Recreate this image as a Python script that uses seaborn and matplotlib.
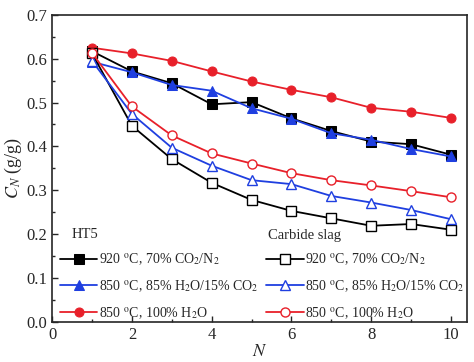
import matplotlib
matplotlib.use('Agg')
import matplotlib.pyplot as plt
import seaborn as sns
import pandas as pd

# Dados
ciclos = [1, 2, 3, 4, 5, 6, 7, 8, 9, 10]
ht5_co2 = [0.617, 0.571, 0.544, 0.496, 0.501, 0.464, 0.435, 0.411, 0.405, 0.381]
ht5_mix = [0.593, 0.569, 0.540, 0.527, 0.487, 0.463, 0.430, 0.415, 0.394, 0.377]
ht5_h2o = [0.625, 0.612, 0.595, 0.571, 0.548, 0.529, 0.512, 0.488, 0.479, 0.465]
cs_co2 = [0.612, 0.447, 0.371, 0.317, 0.278, 0.253, 0.236, 0.219, 0.223, 0.210]
cs_mix = [0.595, 0.474, 0.397, 0.356, 0.323, 0.314, 0.287, 0.272, 0.255, 0.234]
cs_h2o = [0.613, 0.491, 0.425, 0.384, 0.361, 0.339, 0.323, 0.311, 0.298, 0.284]

rotulos = [r'920 $^{\rm o}$C, 70% CO$_2$/N$_2$',
           r'850 $^{\rm o}$C, 85% H$_2$O/15% CO$_2$',
           r'850 $^{\rm o}$C, 100% H$_2$O']

sns.set_style('ticks')
plt.rcParams['font.family'] = ['Liberation Serif', 'DejaVu Serif']
plt.rcParams['mathtext.fontset'] = 'stix'
plt.rcParams['xtick.direction'] = 'in'
plt.rcParams['ytick.direction'] = 'in'

fig = plt.figure(figsize=(4.74, 3.62), dpi=100)
ax = fig.add_axes([0.11, 0.111, 0.875, 0.848])

cores = ['black', '#1f3fe0', '#e8202a']
marcadores = ['s', '^', 'o']

linhas_ht5 = []
linhas_cs = []
for serie, cor, mk in zip([ht5_co2, ht5_mix, ht5_h2o], cores, marcadores):
    df = pd.DataFrame({'N': ciclos, 'C': serie})
    sns.lineplot(data=df, x='N', y='C', ax=ax, color=cor, marker=mk,
                 markersize=6.5, markerfacecolor=cor, markeredgecolor=cor,
                 linewidth=1.3)
    linhas_ht5.append(ax.lines[-1])
for serie, cor, mk in zip([cs_co2, cs_mix, cs_h2o], cores, marcadores):
    df = pd.DataFrame({'N': ciclos, 'C': serie})
    sns.lineplot(data=df, x='N', y='C', ax=ax, color=cor, marker=mk,
                 markersize=6.5, markerfacecolor='white', markeredgecolor=cor,
                 markeredgewidth=1.0, linewidth=1.3)
    linhas_cs.append(ax.lines[-1])

ax.set_xlim(0, 10.4)
ax.set_ylim(0, 0.7)
ax.set_xticks([0, 2, 4, 6, 8, 10])
ax.set_xticks([1, 3, 5, 7, 9], minor=True)
ax.set_yticks([0, 0.1, 0.2, 0.3, 0.4, 0.5, 0.6, 0.7])
ax.set_yticks([0.05, 0.15, 0.25, 0.35, 0.45, 0.55, 0.65], minor=True)
ax.set_yticklabels(['0.0', '0.1', '0.2', '0.3', '0.4', '0.5', '0.6', '0.7'])
ax.tick_params(labelsize=12, length=4, width=1)
ax.tick_params(which='minor', length=2.5, width=1)
for s in ax.spines.values():
    s.set_linewidth(1.2)
ax.set_xlabel(r'$N$', fontsize=13, labelpad=0)
ax.set_ylabel(r'$C_N$ (g/g)', fontsize=13, labelpad=2)

leg1 = ax.legend(linhas_ht5, rotulos, loc='lower left', bbox_to_anchor=(0.005, -0.015),
                 frameon=False, fontsize=10, handlelength=2.7, handletextpad=0.1,
                 labelspacing=0.8, borderaxespad=0.0)
ax.add_artist(leg1)
ax.legend(linhas_cs, rotulos, loc='lower left', bbox_to_anchor=(0.503, -0.015),
          frameon=False, fontsize=10, handlelength=2.7, handletextpad=0.1,
          labelspacing=0.8, borderaxespad=0.0)
ax.text(0.047, 0.285, 'HT5', transform=ax.transAxes, fontsize=10.5, va='center')
ax.text(0.521, 0.28, 'Carbide slag', transform=ax.transAxes, fontsize=10.5, va='center')

plt.savefig('out.png', dpi=100)
